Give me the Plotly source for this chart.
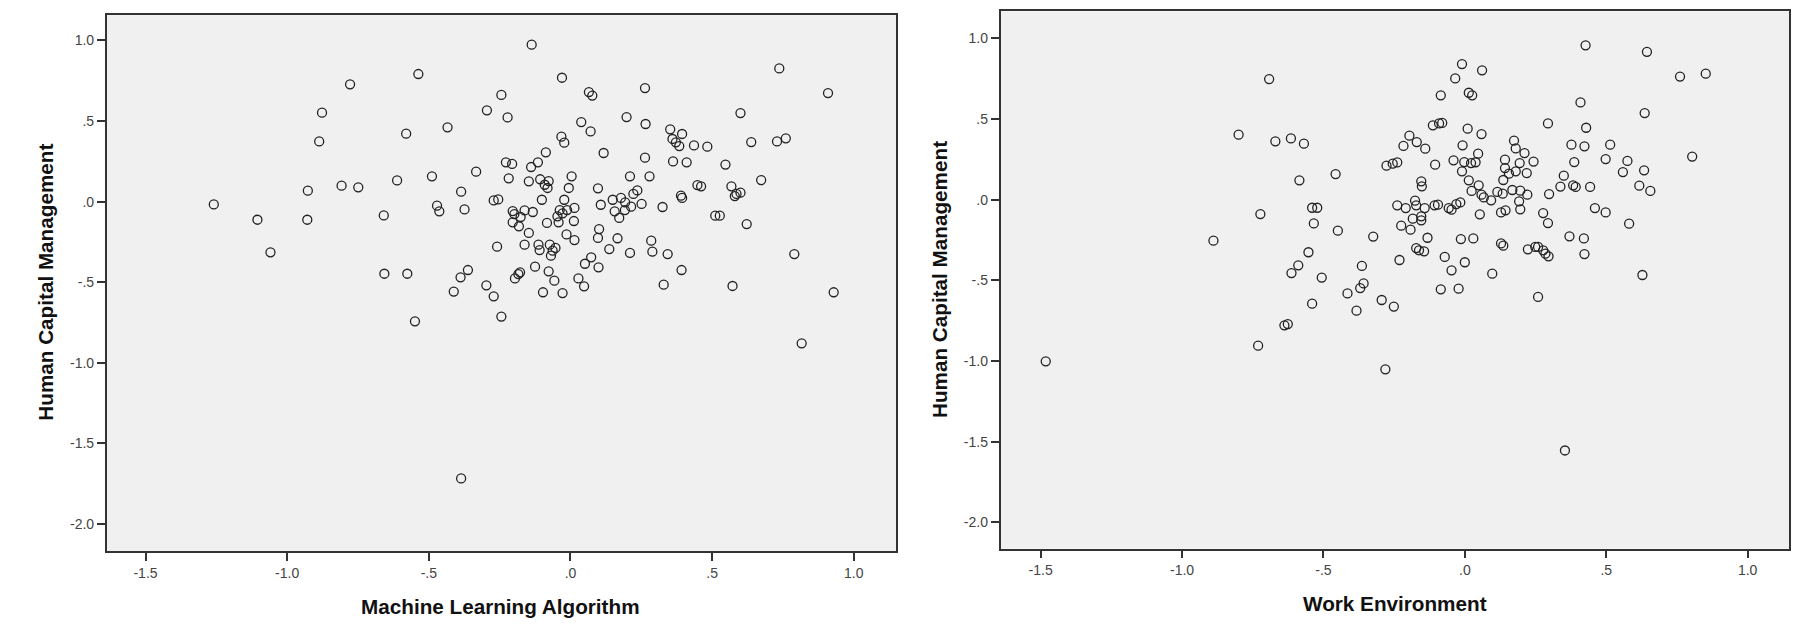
import plotly.graph_objects as go

W, H = 1801, 627

# ---- data: Machine Learning Algorithm (x) vs Human Capital Management (y)
ml_x = [-0.137, -0.537, -0.778, -0.030, 0.737, 0.909, 0.263, 0.065, 0.077, -0.244,
        -0.877, -0.295, -0.222, 0.600, 0.198, 0.038, 0.265, -0.434, 0.071, -0.580,
        -0.887, -0.032, -0.022, 0.352, 0.394, 0.360, 0.372, 0.384, 0.436, 0.483,
        0.638, 0.729, 0.760, -0.087, 0.117, 0.263, 0.362, 0.410, 0.547, -0.228,
        -0.206, -0.139, -0.115, -0.333, -0.489, -0.612, -0.218, -0.147, -0.107, -0.091,
        -0.077, -0.081, 0.004, -0.006, 0.097, 0.210, 0.279, 0.448, 0.461, 0.568,
        0.673, -0.927, -0.808, -0.749, -0.386, -0.271, -0.255, -0.101, -0.022, 0.236,
        0.222, 0.149, 0.178, 0.390, 0.394, 0.586, 0.600, 0.580, -1.259, -1.105,
        -0.929, -1.059, -0.471, -0.463, -0.374, -0.659, -0.204, -0.198, -0.162, -0.133,
        -0.176, -0.204, -0.182, -0.147, -0.083, -0.046, -0.038, -0.012, -0.028, 0.014,
        -0.042, 0.012, -0.014, 0.014, 0.107, 0.156, 0.172, 0.192, 0.214, 0.251,
        0.325, 0.101, 0.097, 0.166, 0.137, 0.210, 0.285, 0.289, 0.343, 0.511,
        0.527, 0.622, 0.790, -0.259, -0.162, -0.113, -0.109, -0.073, -0.063, -0.053,
        -0.069, 0.073, 0.051, 0.099, -0.125, -0.077, -0.057, -0.178, -0.184, -0.196,
        -0.362, -0.388, -0.657, -0.576, -0.412, -0.297, -0.271, -0.097, -0.028, 0.028,
        0.048, 0.329, 0.392, 0.572, 0.929, -0.549, -0.244, 0.816, -0.386, 0.193]
ml_y = [0.974, 0.792, 0.728, 0.769, 0.827, 0.674, 0.705, 0.680, 0.658, 0.662,
        0.552, 0.567, 0.523, 0.550, 0.525, 0.494, 0.482, 0.461, 0.436, 0.422,
        0.374, 0.403, 0.366, 0.449, 0.420, 0.389, 0.368, 0.345, 0.349, 0.341,
        0.370, 0.374, 0.393, 0.306, 0.302, 0.273, 0.250, 0.244, 0.230, 0.244,
        0.234, 0.215, 0.244, 0.186, 0.157, 0.132, 0.145, 0.126, 0.139, 0.105,
        0.128, 0.085, 0.157, 0.085, 0.083, 0.157, 0.157, 0.103, 0.095, 0.095,
        0.134, 0.068, 0.099, 0.089, 0.062, 0.008, 0.014, 0.012, 0.012, 0.070,
        0.048, 0.012, 0.023, 0.037, 0.023, 0.048, 0.056, 0.035, -0.017, -0.112,
        -0.112, -0.314, -0.025, -0.060, -0.048, -0.085, -0.058, -0.077, -0.054, -0.064,
        -0.095, -0.128, -0.153, -0.194, -0.132, -0.091, -0.052, -0.052, -0.072, -0.039,
        -0.128, -0.120, -0.203, -0.238, -0.019, -0.060, -0.101, -0.052, -0.031, -0.014,
        -0.033, -0.170, -0.225, -0.227, -0.294, -0.318, -0.242, -0.310, -0.325, -0.087,
        -0.087, -0.139, -0.325, -0.279, -0.267, -0.267, -0.300, -0.267, -0.304, -0.287,
        -0.335, -0.345, -0.385, -0.407, -0.403, -0.432, -0.490, -0.438, -0.449, -0.476,
        -0.424, -0.469, -0.447, -0.447, -0.558, -0.519, -0.587, -0.562, -0.567, -0.476,
        -0.525, -0.515, -0.424, -0.523, -0.562, -0.742, -0.713, -0.879, -1.717, -0.004]

# ---- data: Work Environment (x) vs Human Capital Management (y)
we_x = [0.427, 0.644, -0.010, 0.061, -0.034, -0.692, 0.761, 0.852, 0.014, 0.026,
        -0.085, 0.409, 0.636, -0.113, -0.091, -0.080, 0.294, 0.429, 0.010, 0.059,
        -0.800, -0.670, -0.615, -0.569, -0.196, -0.170, -0.217, -0.140, -0.008, 0.174,
        0.180, 0.377, 0.423, 0.514, 0.047, 0.211, 0.243, 0.142, 0.194, 0.142,
        0.156, 0.219, 0.180, 0.136, 0.350, 0.387, 0.498, 0.575, 0.559, 0.634,
        0.804, 0.617, 0.656, -0.277, -0.255, -0.239, -0.105, -0.040, -0.002, 0.022,
        0.038, -0.010, 0.014, -0.457, -0.585, -0.154, -0.152, 0.049, 0.059, 0.067,
        0.024, 0.115, 0.168, 0.196, 0.221, 0.134, 0.093, 0.298, 0.338, 0.383,
        0.392, 0.443, -0.176, -0.172, -0.239, -0.209, -0.142, -0.107, -0.095, -0.057,
        -0.047, -0.030, -0.016, -0.184, -0.154, -0.154, -0.225, -0.192, -0.132, 0.053,
        0.128, 0.144, 0.196, 0.192, 0.277, 0.294, 0.460, 0.498, 0.581, 0.370,
        0.421, 0.423, 0.628, -0.014, 0.030, -0.172, -0.162, -0.144, -0.071, -0.231,
        0.000, -0.047, 0.128, 0.136, 0.223, 0.249, 0.259, 0.277, 0.285, 0.296,
        0.097, -0.085, -0.022, 0.259, -0.324, -0.449, -0.534, -0.540, -0.522, -0.723,
        -0.889, -0.553, -0.589, -0.613, -0.506, -0.364, -0.358, -0.370, -0.415, -0.383,
        -0.540, -0.294, -0.251, -0.638, -0.626, -1.482, -0.731, -0.281, 0.354]
we_y = [0.957, 0.917, 0.841, 0.802, 0.752, 0.748, 0.763, 0.781, 0.663, 0.647,
        0.647, 0.603, 0.537, 0.461, 0.473, 0.476, 0.473, 0.446, 0.440, 0.407,
        0.403, 0.362, 0.380, 0.347, 0.397, 0.357, 0.333, 0.316, 0.337, 0.366,
        0.318, 0.341, 0.331, 0.341, 0.285, 0.289, 0.236, 0.248, 0.227, 0.196,
        0.161, 0.165, 0.176, 0.122, 0.149, 0.233, 0.252, 0.240, 0.171, 0.182,
        0.267, 0.087, 0.054, 0.211, 0.223, 0.231, 0.217, 0.244, 0.233, 0.227,
        0.232, 0.176, 0.120, 0.159, 0.120, 0.114, 0.083, 0.089, 0.031, 0.014,
        0.054, 0.048, 0.060, 0.056, 0.031, 0.037, -0.004, 0.035, 0.081, 0.089,
        0.079, 0.079, -0.006, -0.035, -0.035, -0.052, -0.052, -0.035, -0.031, -0.052,
        -0.062, -0.027, -0.017, -0.118, -0.103, -0.128, -0.161, -0.186, -0.236, -0.091,
        -0.079, -0.066, -0.060, -0.010, -0.083, -0.145, -0.052, -0.079, -0.149, -0.227,
        -0.240, -0.337, -0.467, -0.244, -0.240, -0.300, -0.314, -0.320, -0.355, -0.374,
        -0.388, -0.438, -0.271, -0.285, -0.308, -0.293, -0.293, -0.314, -0.335, -0.351,
        -0.459, -0.556, -0.552, -0.603, -0.229, -0.192, -0.147, -0.050, -0.050, -0.089,
        -0.254, -0.326, -0.407, -0.455, -0.483, -0.411, -0.519, -0.548, -0.581, -0.688,
        -0.645, -0.622, -0.663, -0.779, -0.771, -1.002, -0.905, -1.052, -1.555]

x_tickvals = [-1.5, -1.0, -0.5, 0.0, 0.5, 1.0]
x_ticktext = ["-1.5", "-1.0", "-.5", ".0", ".5", "1.0"]
y_tickvals = [1.0, 0.5, 0.0, -0.5, -1.0, -1.5, -2.0]
y_ticktext = ["1.0", ".5", ".0", "-.5", "-1.0", "-1.5", "-2.0"]

y_title = "Human Capital Management"
x_title_left = "Machine Learning Algorithm"
x_title_right = "Work Environment"

FONT = "Liberation Sans, Arial, sans-serif"
marker = dict(symbol="circle-open", size=9, color="#222222",
              line=dict(width=1.3, color="#222222"))

fig = go.Figure()
fig.add_trace(go.Scatter(x=ml_x, y=ml_y, mode="markers", marker=marker,
                         xaxis="x", yaxis="y", showlegend=False, hoverinfo="x+y"))
fig.add_trace(go.Scatter(x=we_x, y=we_y, mode="markers", marker=marker,
                         xaxis="x2", yaxis="y2", showlegend=False, hoverinfo="x+y"))

axis_common = dict(showgrid=False, zeroline=False, showline=True, mirror=True,
                   linecolor="#333333", linewidth=1.5, ticks="outside", ticklen=8,
                   tickwidth=1.5, tickcolor="#333333",
                   tickfont=dict(family=FONT, size=14, color="#444444"))

fig.update_layout(
    width=W, height=H,
    margin=dict(l=0, r=0, t=0, b=0),
    paper_bgcolor="white",
    plot_bgcolor="#f0f0f0",
    font=dict(family=FONT),
    xaxis=dict(domain=[98.7 / W, 888.3 / W], range=[-1.637, 1.150],
               tickvals=x_tickvals, ticktext=x_ticktext, anchor="y", **axis_common),
    yaxis=dict(domain=[1 - 543.3 / H, 1 - 6.7 / H], range=[-2.169, 1.160],
               tickvals=y_tickvals, ticktext=y_ticktext, anchor="x", **axis_common),
    xaxis2=dict(domain=[992.5 / W, 1780.9 / W], range=[-1.642, 1.146],
                tickvals=x_tickvals, ticktext=x_ticktext, anchor="y2", **axis_common),
    yaxis2=dict(domain=[1 - 540.7 / H, 1 - 3.3 / H], range=[-2.164, 1.168],
                tickvals=y_tickvals, ticktext=y_ticktext, anchor="x2", **axis_common),
)

title_font = dict(family=FONT, size=20.7, color="#111111")
annos = [
    dict(text="<b>%s</b>" % y_title, x=36.7 / W, y=1 - 274 / H, textangle=-90),
    dict(text="<b>%s</b>" % y_title, x=931 / W, y=1 - 272 / H, textangle=-90),
    dict(text="<b>%s</b>" % x_title_left, x=493 / W, y=1 - 598 / H, textangle=0),
    dict(text="<b>%s</b>" % x_title_right, x=1386.7 / W, y=1 - 595 / H, textangle=0),
]
for a in annos:
    fig.add_annotation(xref="paper", yref="paper", xanchor="center", yanchor="middle",
                       showarrow=False, font=title_font, **a)

fig.write_html("out.html")
